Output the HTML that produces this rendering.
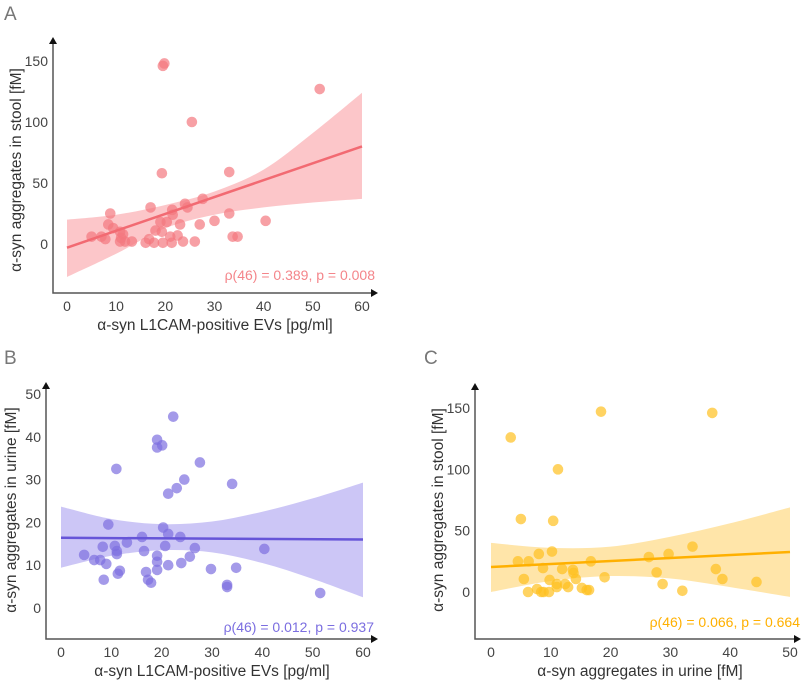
<!DOCTYPE html>
<html><head><meta charset="utf-8">
<style>
html,body{margin:0;padding:0;background:#fff;}
svg{display:block;font-family:"Liberation Sans",sans-serif;}
</style></head>
<body>
<svg id="fig" width="802" height="681" viewBox="0 0 802 681">
<text x="4" y="20" font-size="19" fill="#777">A</text>
<text x="4" y="364" font-size="19" fill="#777">B</text>
<text x="424" y="364" font-size="19" fill="#777">C</text>
</svg>
<script>
// Panel A: x = L1CAM EVs, y = stool
const aX = [19.5,19.8,51.4,25.4,19.3,33,27.6,17,24,24.5,21.4,21.5,8.8,33,40.4,30,27,23,19,20.3,8.4,9.4,10.8,18,19.3,5,7,7.8,11,21,22.5,33.7,34.7,10.8,11.8,13.2,16,17.7,19.5,21.3,23.6,26,16.7,11.4];
const aY = [146,148,127,100,58,59,37,30,33,30,28,24,25,25,19,19,16,16,18,18,16,13,10,11,10,6,6,4,5,6,7,6,6,2,2,2,1,1,1,1,2,2,4,8];
const aLine = [-3,80];
const aBandX = [0,10,20,30,40,50,60];
const aBandHi = [20,24,32,43,61,91,124];
const aBandLo = [-27,-8,13,24,30,34,37];
const aXTicks = [0,10,20,30,40,50,60];
const aYTicks = [0,50,100,150];

// Panel B: x = L1CAM EVs, y = urine
const bX = [22.3,19.1,20.1,19.1,27.6,11,24.5,34,23,21.3,9.4,20.3,21.3,23.7,16.1,13.1,10.7,8.3,20.7,26.6,40.4,16.5,11.1,11.1,4.6,25.6,6.6,7.8,19.1,19.1,9,21.3,23.9,19.1,29.8,34.8,11.7,11.3,16.9,8.5,17.3,17.9,33,33,51.5];
const bY = [44.7,39.3,38,37.5,34,32.5,30,29,28,26.7,19.5,18.8,17.3,16.6,16.6,15.3,14.5,14.3,14.5,14,13.8,13.3,13.3,12.6,12.4,12,11.2,11.2,12.2,10.8,10.3,10,10.5,8.9,9.1,9.4,8.7,8,8.4,6.6,6.6,5.9,5.4,4.9,3.5];
const bLine = [16.4,16.0];
const bBandX = [0,10,20,30,40,50,60];
const bBandHi = [23.7,20.8,19.6,20.2,22.5,25.6,29.3];
const bBandLo = [9.4,12.2,13.5,13,10.5,6.8,2.5];
const bXTicks = [0,10,20,30,40,50,60];
const bYTicks = [0,10,20,30,40,50];

// Panel C: x = urine, y = stool
const cX = [18.4,37,3.3,11.2,5,10.4,33.7,10.2,8,29.7,26.4,4.5,6.3,16.7,8.7,11.9,13.7,13.8,37.6,27.7,19,38.7,5.5,9.8,14.2,44.4,28.7,11,12.4,11,15.2,7.7,12.9,16,16.4,6.2,8.4,8.8,9.7,32];
const cY = [147,146,126,100,59.5,58,37,33,31,31,28.5,25,25,25,19.5,18.7,18,15.5,18.7,16,12,10.6,10.6,9.8,10.6,8.2,6.5,6.5,6.5,4,3.3,2.4,4,1.6,1.6,0,0,0,0,1];
const cLine = [20.4,32.6];
const cBandX = [0,10,20,30,40,50];
const cBandHi = [40,36,37,45,56,69];
const cBandLo = [0,9,13,11,4,-4];
const cXTicks = [0,10,20,30,40,50];
const cYTicks = [0,50,100,150];

const NS = "http://www.w3.org/2000/svg";
const svg = document.getElementById('fig');
function mk(tag, attrs, parent){
  const e = document.createElementNS(NS, tag);
  for (const k in attrs) e.setAttribute(k, attrs[k]);
  (parent||svg).appendChild(e);
  return e;
}
// smooth path through points (Catmull-Rom -> bezier), continuing an existing path
function smooth(pts, start){
  let d = start ? `M${pts[0][0]} ${pts[0][1]}` : `L${pts[0][0]} ${pts[0][1]}`;
  for (let i = 0; i < pts.length-1; i++){
    const p0 = pts[Math.max(0,i-1)], p1 = pts[i], p2 = pts[i+1], p3 = pts[Math.min(pts.length-1,i+2)];
    const c1 = [p1[0]+(p2[0]-p0[0])/6, p1[1]+(p2[1]-p0[1])/6];
    const c2 = [p2[0]-(p3[0]-p1[0])/6, p2[1]-(p3[1]-p1[1])/6];
    d += ` C${c1[0]} ${c1[1]} ${c2[0]} ${c2[1]} ${p2[0]} ${p2[1]}`;
  }
  return d;
}

function panel(p){
  const g = mk('g', {});
  
  
  const sx = v => p.x0 + (v - p.xmin) / (p.xmax - p.xmin) * (p.x1 - p.x0);
  const sy = v => p.y0 + (v - p.ymin) / (p.ymax - p.ymin) * (p.y1 - p.y0);
  const hi = p.bandX.map((v,i)=>[sx(v), sy(p.bandHi[i])]);
  const lo = p.bandX.map((v,i)=>[sx(v), sy(p.bandLo[i])]).reverse();
  const d = smooth(hi, true) + ' ' + smooth(lo, false) + ' Z';
  const band = mk('path', {d: d, fill: p.band, 'fill-opacity': 0.85}, g);
  
  
  p.xs.forEach((v,i)=>{
    const c = mk('circle', {cx: sx(v), cy: sy(p.ys[i]), r: 5.3, fill: p.pt, 'fill-opacity': 0.7}, g);
    
    
  });
  const xl = p.bandX[0], xr = p.bandX[p.bandX.length-1];
  const ln = mk('line', {x1: sx(xl), y1: sy(p.line[0]), x2: sx(xr), y2: sy(p.line[1]), stroke: p.lc, 'stroke-width': 2.5}, g);
  
  
  const ax = mk('path', {d: `M${p.ax} ${p.atop+6} L${p.ax} ${p.ay} L${p.aright-6} ${p.ay}`, stroke: '#555', 'stroke-width': 1.5, fill: 'none'}, g);
  
  
  const ar1 = mk('path', {d: `M${p.ax-4} ${p.atop+7} L${p.ax} ${p.atop} L${p.ax+4} ${p.atop+7}Z`, fill: '#111'}, g);
  
  
  const ar2 = mk('path', {d: `M${p.aright-7} ${p.ay-4} L${p.aright} ${p.ay} L${p.aright-7} ${p.ay+4}Z`, fill: '#111'}, g);
  
  
  p.xt.forEach(v=>{
    const t = mk('text', {x: sx(v), y: p.ay + 18, 'font-size': 14, fill: '#444', 'text-anchor': 'middle'}, g);
    t.textContent = v;
    
    
  });
  p.yt.forEach(v=>{
    const t = mk('text', {x: p.ax - 5, y: sy(v) + 5, 'font-size': 14, fill: '#444', 'text-anchor': 'end'}, g);
    t.textContent = v;
    
    
  });
  const xt = mk('text', {x: p.xtx, y: p.ay + 37, 'font-size': 15.5, fill: '#333', 'text-anchor': 'middle'}, g);
  xt.textContent = p.xtitle;
  
  
  const yt = mk('text', {x: 0, y: 0, 'font-size': 15.5, fill: '#333', 'text-anchor': 'middle', transform: `translate(${p.ytx},${p.yty}) rotate(-90)`}, g);
  yt.textContent = p.ytitle;
  
  
  const an = mk('text', {x: p.anx, y: p.any, 'font-size': 14, fill: p.tc, 'text-anchor': 'end'}, g);
  an.textContent = p.ann;
  
  
}

panel({name:'panel-a', xs:aX, ys:aY, line:aLine, bandX:aBandX, bandHi:aBandHi, bandLo:aBandLo, xt:aXTicks, yt:aYTicks,
  xmin:0,xmax:60,x0:67,x1:362, ymin:0,ymax:150,y0:244,y1:61,
  ax:53, ay:293, atop:37, aright:378,
  band:'#fbbcc0', pt:'#f4787f', lc:'#f26a72', tc:'#f4858a',
  xtitle:'α-syn L1CAM-positive EVs [pg/ml]', xtx:215, ytitle:'α-syn aggregates in stool [fM]', ytx:21, yty:170,
  ann:'ρ(46) = 0.389, p = 0.008', anx:375, any:280});
panel({name:'panel-b', xs:bX, ys:bY, line:bLine, bandX:bBandX, bandHi:bBandHi, bandLo:bBandLo, xt:bXTicks, yt:bYTicks,
  xmin:0,xmax:60,x0:61,x1:363, ymin:0,ymax:50,y0:608,y1:394,
  ax:46, ay:639, atop:382, aright:378,
  band:'#c3bcf4', pt:'#7d6fe0', lc:'#6655d8', tc:'#7b6ee0',
  xtitle:'α-syn L1CAM-positive EVs [pg/ml]', xtx:212, ytitle:'α-syn aggregates in urine [fM]', ytx:16, yty:510,
  ann:'ρ(46) = 0.012, p = 0.937', anx:374, any:632});
panel({name:'panel-c', xs:cX, ys:cY, line:cLine, bandX:cBandX, bandHi:cBandHi, bandLo:cBandLo, xt:cXTicks, yt:cYTicks,
  xmin:0,xmax:50,x0:491,x1:790, ymin:0,ymax:150,y0:592,y1:408,
  ax:475, ay:639, atop:383, aright:801,
  band:'#ffe09a', pt:'#ffc020', lc:'#ffb000', tc:'#ffb000',
  xtitle:'α-syn aggregates in urine [fM]', xtx:640, ytitle:'α-syn aggregates in stool [fM]', ytx:443, yty:510,
  ann:'ρ(46) = 0.066, p = 0.664', anx:800, any:627});
</script>
</body></html>
